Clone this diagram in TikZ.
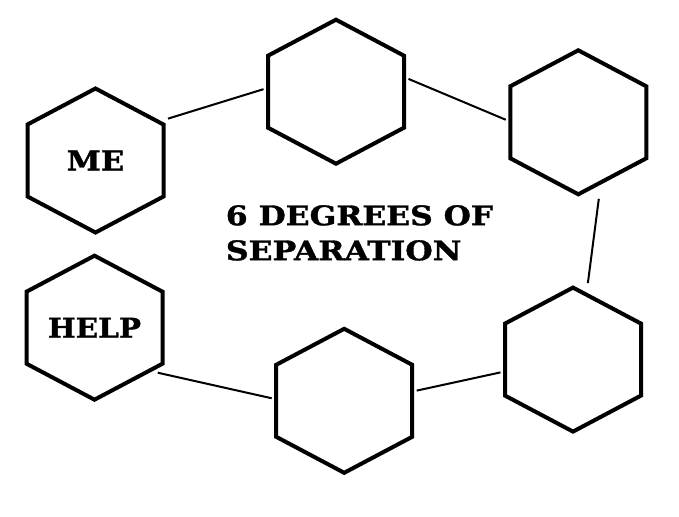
\documentclass[tikz,border=0pt]{standalone}
\usepackage{graphicx}
\usepackage{fontspec}
\newfontfamily\labelfont[BoldFeatures={FakeBold=1.2}]{DejaVu Serif}
\newcommand\widetext[2][1.14]{\scalebox{#1}[1]{#2}}
\begin{document}
\begin{tikzpicture}[x=1pt,y=-1pt,
  hexa/.style={minimum width=136pt,minimum height=144pt,inner sep=0pt,outer sep=4.5pt,font=\labelfont\fontsize{27}{35}\selectfont\bfseries},
  hexline/.style={line width=4pt},
  link/.style={line width=2pt}]
\path[fill=white] (0,0) rectangle (679,516);
\node[hexa] (me) at (95.5,160.5) {\widetext{ME}};
\node[hexa] (h2) at (336,91.7) {};
\node[hexa] (h3) at (578.3,122.3) {};
\node[hexa] (help) at (94.5,327.7) {\widetext[1.09]{HELP}};
\node[hexa] (h5) at (344.2,400.8) {};
\node[hexa] (h6) at (573,359.6) {};
\node[anchor=north west,inner sep=0pt,align=left,font=\labelfont\fontsize{27}{35}\selectfont\bfseries] (title) at (225.7,205) {\widetext[1.16]{6 DEGREES OF}\\\widetext[1.165]{SEPARATION}};
\foreach \n in {me,h2,h3,help,h5,h6}
  \draw[hexline] (\n.center) +(0,-72) -- +(68,-36) -- +(68,36) -- +(0,72) -- +(-68,36) -- +(-68,-36) -- cycle;
\draw[link] (me.30) -- (h2.178);
\draw[link] (h2.10) -- (h3.178);
\draw[link] (h3.-75) -- (h6.79);
\draw[link] (h5.8) -- (h6.190);
\draw[link,shorten <=-9.5pt] (help.-33) -- (h5.178);
\end{tikzpicture}
\end{document}
